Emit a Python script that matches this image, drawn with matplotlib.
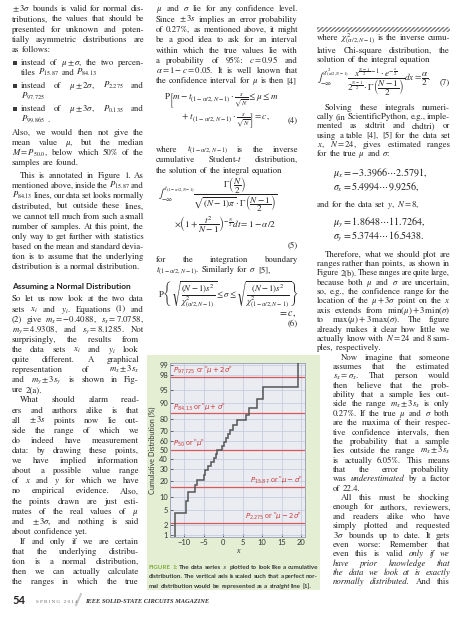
import math
import numpy as np
import matplotlib
matplotlib.use("Agg")
import matplotlib.pyplot as plt
from matplotlib.font_manager import FontProperties
from matplotlib.patches import Rectangle

plt.rcParams["mathtext.fontset"] = "stix"

# ---------------- chart data ----------------
x_samples = [-12.4, -9.6, -9.2, -7.2, -6.8, -4.9, -4.6, -3.9, -3.2, -2.4, -1.8, -1.6,
             -0.4, 0.2, 0.6, 1.1, 1.7, 2.4, 3.4, 5.9, 6.5, 8.7, 10.3, 19.1]
ref_pcts = [97.725, 84.13, 50.0, 15.87, 2.275]
ref_labels = [r'$P_{97.725}$ or "$\mu + 2\sigma$"', r'$P_{84.13}$ or "$\mu + \sigma$"',
              r'$P_{50}$ or "$\mu$"', r'$P_{15.87}$ or "$\mu - \sigma$"',
              r'$P_{2.275}$ or "$\mu - 2\sigma$"']
y_ticks = [1, 2, 5, 10, 20, 30, 40, 50, 60, 70, 80, 90, 95, 98, 99]
x_ticks = [-10, -5, 0, 5, 10, 15, 20]

# ---------------- page text ----------------
# line prefixes: ^ extra space above, > paragraph indent, • bullet, » hanging indent
# a trailing ¶ marks a paragraph's last (unjustified) line, § an italic word
col1_top = [
    r"$\pm\,3\sigma$ bounds is valid for normal dis-",
    "tributions, the values that should be",
    "presented for unknown and poten-",
    "tially asymmetric distributions are",
    "as follows:¶",
    r"^•instead of $\mu\pm\sigma$, the two percen-",
    r"»tiles $P_{15.87}$ and $P_{84.13}$¶",
    r"^•instead of $\mu\pm2\sigma$, $P_{2.275}$ and",
    r"»$P_{97.725}$¶",
    r"^•instead of $\mu\pm3\sigma$, $P_{0.135}$ and",
    r"»$P_{99.865}$ .¶",
    "^Also, we would then not give the",
    r"mean value $\mu$, but the median",
    r"$M=P_{50.0}$, below which 50% of the",
    "samples are found.¶",
    "^>This is annotated in Figure 1. As",
    r"mentioned above, inside the $P_{15.87}$ and",
    r"$P_{84.13}$ lines, our data set looks normally",
    "distributed, but outside these lines,",
    "we cannot tell much from such a small",
    "number of samples. At this point, the",
    "only way to get further with statistics",
    "based on the mean and standard devia-",
    "tion is to assume that the underlying",
    "distribution is a normal distribution.¶",
]
heading = "Assuming a Normal Distribution"
col1_bottom = [
    "^So let us now look at the two data",
    r"sets $x_i$ and $y_i$. Equations (1) and",
    r"(2) give $m_x=-0.4088$, $s_x=7.0758$,",
    r"$m_y=4.9308$, and $s_y=8.1285$. Not",
    "surprisingly, the results from",
    r"the data sets $x_i$ and $y_i$ look",
    "quite different. A graphical",
    r"representation of $m_x\pm3s_x$",
    r"and $m_y\pm3s_y$ is shown in Fig-",
    "ure 2(a).¶",
    ">What should alarm read-",
    "ers and authors alike is that",
    r"all $\pm\,3s$ points now lie out-",
    "side the range of which we",
    "do indeed have measurement",
    "data: by drawing these points,",
    "we have implied information",
    "about a possible value range",
    r"of $x$ and $y$ for which we have",
    "no empirical evidence. Also,",
    "the points drawn are just esti-",
    r"mates of the real values of $\mu$",
    r"and $\pm\,3\sigma$, and nothing is said",
    "about confidence yet.¶",
    ">If and only if we are certain",
    "that the underlying distribu-",
    "tion is a normal distribution,",
    "then we can actually calculate",
    "the ranges in which the true",
]
col2_top = [
    r"$\mu$ and $\sigma$ lie for any confidence level.",
    r"Since $\pm\,3s$ implies an error probability",
    "of 0.27%, as mentioned above, it might",
    "be a good idea to ask for an interval",
    "within which the true values lie with",
    r"a probability of 95%: $c=0.95$ and",
    r"$\alpha=1-c=0.05$. It is well known that",
    r"the confidence interval for $\mu$ is then [4]¶",
]
eq4a = r"$\mathrm{P}\left[m-t_{(1-\alpha/2,N-1)}\cdot\frac{s}{\sqrt{N}}\leq\mu\leq m\right.$"
eq4b = r"$\left.+\,t_{(1-\alpha/2,N-1)}\cdot\frac{s}{\sqrt{N}}\right]=c,$"
col2_mid = [
    r"where $t_{(1-\alpha/2,N-1)}$ is the inverse",
    r"cumulative Student-$t$ distribution,",
    "the solution of the integral equation¶",
]
eq5a = (r"$\int_{-\infty}^{t_{(1-\alpha/2,N-1)}}\dfrac{\Gamma\left(\dfrac{N}{2}\right)}"
        r"{\sqrt{(N-1)\pi}\cdot\Gamma\left(\dfrac{N-1}{2}\right)}$")
eq5b = r"$\times\left(1+\dfrac{t^2}{N-1}\right)^{-\frac{N}{2}}dt=1-\alpha/2$"
col2_low = [
    "for the integration boundary",
    r"$t_{(1-\alpha/2,N-1)}$. Similarly for $\sigma$ [5],¶",
]
eq6a = (r"$\mathrm{P}\left\{\sqrt{\dfrac{(N-1)s^2}{\chi^2_{(\alpha/2,N-1)}}}\leq\sigma\leq"
        r"\sqrt{\dfrac{(N-1)s^2}{\chi^2_{(1-\alpha/2,N-1)}}}\right\}$")
eq6b = r"$=c,$"
col3_a = [
    r"where $\chi^2_{(\alpha/2,N-1)}$ is the inverse cumu-",
    "^lative Chi-square distribution, the",
    "solution of the integral equation¶",
]
eq7 = (r"$\int_{-\infty}^{\chi^2_{(\alpha/2,N-1)}}\dfrac{x^{\frac{N-1}{2}-1}\cdot e^{-\frac{x}{2}}}"
       r"{2^{\frac{N-1}{2}}\cdot\Gamma\left(\dfrac{N-1}{2}\right)}dx=\dfrac{\alpha}{2}.$")
col3_b = [
    ">Solving these integrals numeri-",
    "cally (in ScientificPython, e.g., imple-",
    "mented as stdtrit and chdtri) or",
    "using a table [4], [5] for the data set",
    r"$x$, $N=24$, gives estimated ranges",
    r"for the true $\mu$ and $\sigma$:¶",
]
disp_x = [r"$\mu_x=-3.3966\cdots2.5791,$", r"$\sigma_x=5.4994\cdots9.9256,$"]
col3_c = [r"and for the data set $y$, $N=8$,¶"]
disp_y = [r"$\mu_y=1.8648\cdots11.7264,$", r"$\sigma_y=5.3744\cdots16.5438.$"]
col3_d = [
    ">Therefore, what we should plot are",
    "ranges rather than points, as shown in",
    "Figure 2(b). These ranges are quite large,",
    r"because both $\mu$ and $\sigma$ are uncertain,",
    "so, e.g., the confidence range for the",
    r"location of the $\mu+3\sigma$ point on the $x$",
    r"axis extends from $\min(\mu)+3\,\min(\sigma)$",
    r"to $\max(\mu)+3\,\max(\sigma)$. The figure",
    "already makes it clear how little we",
    r"actually know with $N=24$ and 8 sam-",
    "ples, respectively.¶",
]
col3_e = [
    ">Now imagine that someone",
    "assumes that the estimated",
    r"$s_x=\sigma_x$. That person would",
    "then believe that the prob-",
    "ability that a sample lies out-",
    r"side the range $m_x\pm3s_x$ is only",
    r"0.27%. If the true $\mu$ and $\sigma$ both",
    "are the maxima of their respec-",
    "tive confidence intervals, then",
    "the probability that a sample",
    r"lies outside the range $m_x\pm3s_x$",
    "is actually 6.05%. This means",
    "that the error probability",
    "was §underestimated by a factor",
    "of 22.4.¶",
    ">All this must be shocking",
    "enough for authors, reviewers,",
    "and readers alike who have",
    "simply plotted and requested",
    r"$3\sigma$ bounds up to date. It gets",
    "even worse: Remember that",
    "even this is valid §only §if §we",
    "§have §prior §knowledge §that",
    "§the §data §we §look §at §is §exactly",
    "§normally §distributed. And this",
]
caption = [
    r"FIGURE 1: The data series $x_i$ plotted to look like a cumulative",
    "distribution. The vertical axis is scaled such that a perfect nor-",
    "mal distribution would be represented as a §straight line [1].¶",
]

# ---------------- page setup ----------------
W, H = 460, 628
INK = "#231f20"
BODY = "STIXGeneral"
fig = plt.figure(figsize=(W / 100, H / 100), dpi=100)
page = fig.add_axes([0, 0, 1, 1])
page.set_xlim(0, W)
page.set_ylim(H, 0)
page.axis("off")
renderer = fig.canvas.get_renderer()

C1 = (12, 144)
C2 = (156, 298)
C3 = (317, 450)
BOX = (147, 355, 320, 590)


def tokens(s):
    out, cur, m = [], "", False
    for ch in s:
        if ch == "$":
            m = not m
        if ch == " " and not m:
            if cur:
                out.append(cur)
            cur = ""
        else:
            cur += ch
    if cur:
        out.append(cur)
    return out


def fprop(size, family=BODY, weight="normal", italic=False):
    return FontProperties(family=family, size=size, weight=weight,
                          style="italic" if italic else "normal")


def width(s, fp):
    return renderer.get_text_width_height_descent(s, fp, ismath=s.count("$") >= 2)[0]


def parts_of(text, size, family=BODY, weight="normal"):
    parts = []
    for t in tokens(text):
        ital = t.startswith("§")
        t = t.replace("§", "")
        fp = fprop(size, family, weight, ital)
        parts.append((t, fp, width(t, fp)))
    base = fprop(size, family, weight)
    space = width("n n", base) - width("nn", base)
    return parts, space


def draw_line(text, x0, x1, yc, size, justify, family=BODY, weight="normal",
              color=INK, colors=None):
    parts, space = parts_of(text, size, family, weight)
    total = sum(p[2] for p in parts)
    tight = total + 0.45 * space * (len(parts) - 1)
    if tight > x1 - x0:
        # squeeze an overlong line by shrinking its type a little
        size *= (x1 - x0) / tight
        parts, space = parts_of(text, size, family, weight)
        total = sum(p[2] for p in parts)
    gap = space
    if justify and len(parts) > 1:
        gap = max((x1 - x0 - total) / (len(parts) - 1), 0.45 * space)
    yb = yc + 0.27 * size * 100 / 72
    x = x0
    for i, (t, fp, w) in enumerate(parts):
        c = colors[i] if colors and i < len(colors) else color
        page.text(x, yb, t, fontproperties=fp, color=c, ha="left", va="baseline")
        x += w + gap


def line_item(s):
    pre = 0.0
    while s.startswith("^"):
        pre += 0.3
        s = s[1:]
    kind = "L"
    justify = not s.endswith("¶")
    s = s.rstrip("¶")
    indent = 0
    if s.startswith(">"):
        indent, s = 8, s[1:]
    elif s.startswith("•"):
        kind, indent, s = "B", 9, s[1:]
    elif s.startswith("»"):
        indent, s = 9, s[1:]
    return {"kind": kind, "text": s, "justify": justify, "indent": indent, "pre": pre}


def lines(strs, first_pre=None):
    items = [line_item(s) for s in strs]
    if items and first_pre is not None:
        items[0]["pre"] = first_pre
    return items


def layout(items, x0, x1, y_first, y_last=None, step=None, narrow=None):
    total = sum(it["pre"] for it in items[1:]) + len(items) - 1
    if step is None:
        step = (y_last - y_first) / total
    pos = 0.0
    for k, it in enumerate(items):
        if k:
            pos += 1 + it["pre"]
        it["y"] = y_first + pos * step
        a, b = x0, x1
        if narrow and k >= narrow[0]:
            a, b = narrow[1], narrow[2]
        it["x0"], it["x1"] = a, b
    return items


def math_item(s, dx=0, pre=0.0, num=None, right=False, scale=1.15):
    return {"kind": "M", "text": s, "dx": dx, "pre": pre, "num": num, "right": right,
            "scale": scale}


# column 1
c1 = lines(col1_top) + [{"kind": "H", "text": heading, "pre": 0.9}] + lines(col1_bottom)
n_narrow1 = len(col1_top) + 1 + 4
layout(c1, C1[0], C1[1], 9, y_last=582, narrow=(n_narrow1, C1[0], 139))

# column 2
c2 = (lines(col2_top)
      + [math_item(eq4a, dx=8, pre=0.9, scale=1.05),
         math_item(eq4b, dx=24, pre=0.95, num="(4)", scale=1.05)]
      + lines(col2_mid, 1.8)
      + [math_item(eq5a, dx=2, pre=1.35, scale=1.05), math_item(eq5b, dx=18, pre=1.95, scale=1.05),
         {"kind": "N", "text": "(5)", "pre": 1.0}]
      + lines(col2_low, 0.4)
      + [math_item(eq6a, dx=2, pre=1.4, scale=1.05), math_item(eq6b, pre=0.9, right=True),
         {"kind": "N", "text": "(6)", "pre": -0.1}])
layout(c2, C2[0], C2[1], 9, step=10.3)

# column 3
c3 = (lines(col3_a)
      + [math_item(eq7, dx=0, pre=1.4, num="(7)", scale=1.05)]
      + lines(col3_b, 1.7)
      + [math_item(disp_x[0], dx=16, pre=1.0), math_item(disp_x[1], dx=16, pre=0.45)]
      + lines(col3_c, 0.9)
      + [math_item(disp_y[0], dx=16, pre=1.0), math_item(disp_y[1], dx=16, pre=0.45)]
      + lines(col3_d, 0.9) + lines(col3_e))
n_narrow3 = len(c3) - len(col3_e)
layout(c3, C3[0], C3[1], 38, y_last=582, narrow=(n_narrow3, 333, C3[1]))

# fit body size so nearly every justified line sets with at least 0.65 of a space
ref = 6.0
ratios = []
for it in c1 + c2 + c3:
    if it["kind"] in ("L", "B") and it["justify"]:
        parts, space = parts_of(it["text"], ref)
        need = sum(p[2] for p in parts) + 0.65 * space * (len(parts) - 1)
        ratios.append((it["x1"] - it["x0"] - it["indent"]) / need)
ratios.sort()
body_size = min(6.8, ref * ratios[3])

# figure box and the hatched rule above column 3
page.add_patch(Rectangle((BOX[0], BOX[1]), BOX[2] - BOX[0], BOX[3] - BOX[1],
                         facecolor="#e3eed3", edgecolor="none", zorder=0))
page.add_patch(Rectangle((C3[0], 27), C3[1] - C3[0], 4.5, facecolor="none",
                         edgecolor="#7a7a7a", hatch="////////", linewidth=0, zorder=0))

for col in (c1, c2, c3):
    for it in col:
        kind = it["kind"]
        if kind in ("L", "B"):
            if kind == "B":
                page.add_patch(Rectangle((it["x0"] + 0.8, it["y"] - 1.8), 3.8, 3.8,
                                         facecolor="#3a3a3a", edgecolor="none"))
            draw_line(it["text"], it["x0"] + it["indent"], it["x1"], it["y"],
                      body_size, it["justify"])
        elif kind == "H":
            fp = fprop(7.0, "Lato", "bold")
            hs = 7.0 * 120 / width(it["text"], fp)
            page.text(it["x0"], it["y"] + 3, it["text"], fontproperties=fprop(hs, "Lato", "bold"),
                      color=INK, ha="left", va="baseline")
        elif kind == "N":
            page.text(it["x1"], it["y"], it["text"], fontproperties=fprop(body_size),
                      color=INK, ha="right", va="center")
        elif kind == "M":
            avail = it["x1"] - it["x0"] - it["dx"] - (17 if it["num"] else 0)
            size = body_size * it["scale"]
            fp = fprop(size)
            w = width(it["text"], fp)
            if w > avail:
                size *= avail / w
                fp = fprop(size)
            if it["right"]:
                page.text(it["x1"] - 2, it["y"], it["text"], fontproperties=fp, color=INK,
                          ha="right", va="center")
            else:
                page.text(it["x0"] + it["dx"], it["y"], it["text"], fontproperties=fp,
                          color=INK, ha="left", va="center")
            if it["num"]:
                page.text(it["x1"], it["y"], it["num"], fontproperties=fprop(body_size),
                          color=INK, ha="right", va="center")

# caption
cap_parts, cap_space = parts_of(caption[0], 4.5, "Lato", "bold")
cap_size = 4.5 * 169 / (sum(p[2] for p in cap_parts) + 0.8 * cap_space * (len(cap_parts) - 1))
for i, s in enumerate(caption):
    just = not s.endswith("¶")
    draw_line(s.rstrip("¶"), 149, 318, 567 + 9.5 * i, cap_size, just, family="Lato",
              weight="bold", color="#3a3a3a",
              colors=["#7fae3e", "#7fae3e"] if i == 0 else None)

# footer
page.text(12, 604, "54", fontproperties=fprop(8.0, "Lato", "bold"), color=INK,
          ha="left", va="baseline")
page.text(36, 603, "S P R I N G   2 0 1 4", fontproperties=fprop(3.6, "Liberation Serif"),
          color="#666666", ha="left", va="baseline")
page.plot([76, 81], [605, 594], color="#c8c8c8", lw=1.4)
mag_fp = FontProperties(family="Liberation Serif", size=4.6, weight="bold", style="italic")
page.text(85, 603, "IEEE SOLID-STATE CIRCUITS MAGAZINE", fontproperties=mag_fp,
          color="#333333", ha="left", va="baseline")

# ---------------- normal-probability chart ----------------
_erf = np.vectorize(math.erf, otypes=[float])


def z_to_pct(z):
    return 50.0 * (1.0 + _erf(np.asarray(z, dtype=float) / math.sqrt(2.0)))


def pct_to_z(p):
    p = np.clip(np.asarray(p, dtype=float), 1e-7, 100 - 1e-7)
    lo = np.full(p.shape, -9.0)
    hi = np.full(p.shape, 9.0)
    for _ in range(46):
        mid = 0.5 * (lo + hi)
        up = z_to_pct(mid) < p
        lo = np.where(up, mid, lo)
        hi = np.where(up, hi, mid)
    return 0.5 * (lo + hi)


AX = (170, 363, 305, 537)
ax = fig.add_axes([AX[0] / W, 1 - AX[3] / H, (AX[2] - AX[0]) / W, (AX[3] - AX[1]) / H])
ax.set_facecolor("#eaecf1")
ax.set_yscale("function", functions=(pct_to_z, z_to_pct))
ax.set_ylim(float(z_to_pct(-2.38)), float(z_to_pct(2.38)))
ax.set_xlim(-13.7, 21.0)
ax.set_yticks(y_ticks)
ax.set_yticklabels([str(v) for v in y_ticks])
ax.set_xticks(x_ticks)
ax.set_xticklabels([str(v).replace("-", "\u2212") for v in x_ticks])
ax.yaxis.set_minor_locator(matplotlib.ticker.NullLocator())
ax.xaxis.set_minor_locator(matplotlib.ticker.NullLocator())
ax.grid(True, color="#c7cde0", lw=0.6)
ax.set_axisbelow(True)
for sp in ax.spines.values():
    sp.set_color("#9ea6b8")
    sp.set_linewidth(0.7)
ax.tick_params(labelsize=5.4, colors="#333333", length=2, width=0.5, direction="in", pad=1.5)
for lab in ax.get_xticklabels() + ax.get_yticklabels():
    lab.set_fontfamily("Lato")

RED = "#d65a5a"
for p, lab in zip(ref_pcts, ref_labels):
    ax.axhline(p, color=RED, lw=0.9, zorder=2)
    if p >= 50:
        ax.annotate(lab, (-12.9, p), xytext=(0, 0.6), textcoords="offset points",
                    ha="left", va="bottom", color="#cc3b3b", fontsize=5.0,
                    fontfamily="Lato", math_fontfamily="dejavusans")
    else:
        ax.annotate(lab, (20.3, p), xytext=(0, 0.6), textcoords="offset points",
                    ha="right", va="bottom", color="#cc3b3b", fontsize=5.0,
                    fontfamily="Lato", math_fontfamily="dejavusans")

xs = np.sort(np.asarray(x_samples, dtype=float))
n = len(xs)
lower = np.arange(n) / n * 100
upper = (np.arange(n) + 1) / n * 100
step_x = np.repeat(xs, 2)
step_y = np.clip(np.column_stack([lower, upper]).ravel(), 0.05, 99.95)
ax.plot(step_x, step_y, color="#555555", lw=1.1, zorder=3, solid_joinstyle="miter")

ax.set_ylabel("Cumulative Distribution (%)", fontsize=5.2, fontfamily="Lato",
              color="#333333", labelpad=2)
ax.set_xlabel("x", fontsize=5.8, fontstyle="italic", fontfamily="Liberation Serif",
              color="#333333", labelpad=0.5)

fig.savefig("out.png", dpi=100, facecolor="white")
